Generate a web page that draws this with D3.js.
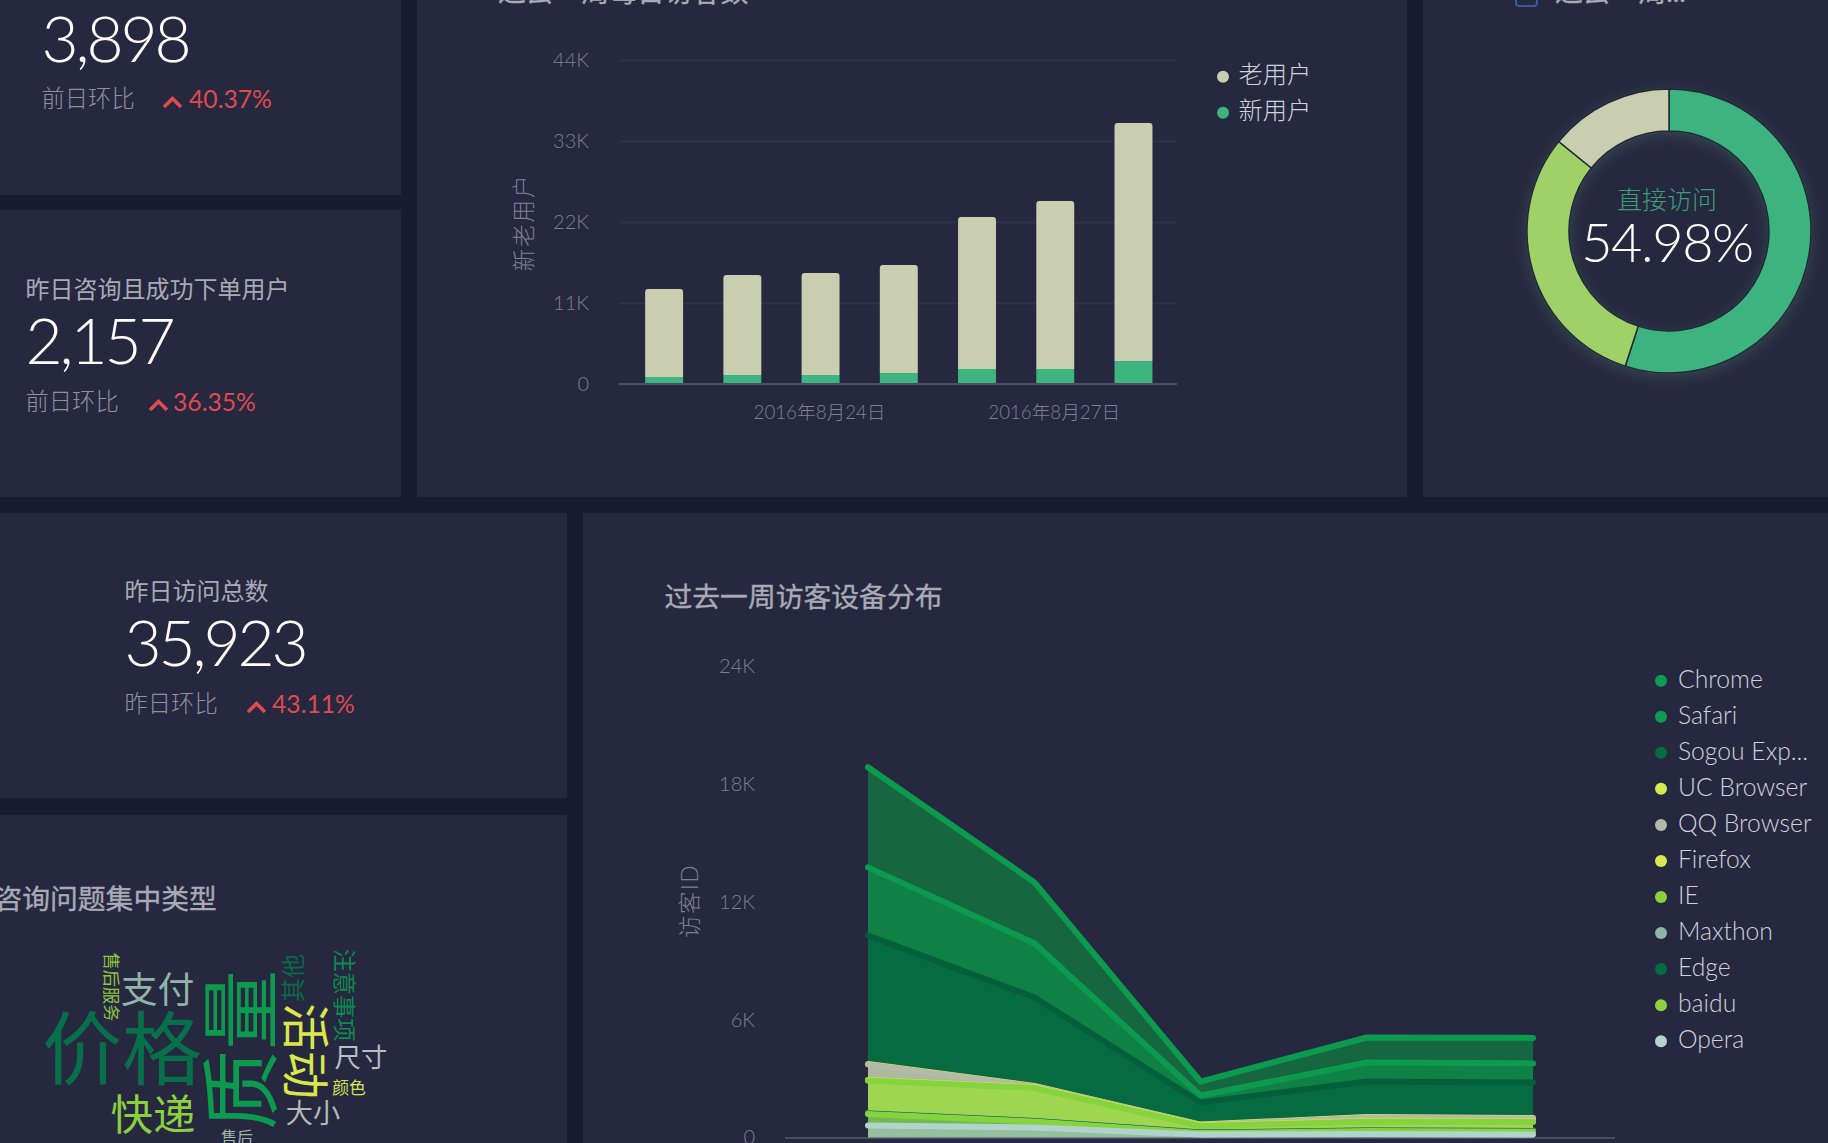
<!DOCTYPE html>
<html lang="zh-CN">
<head>
<meta charset="utf-8">
<title>Dashboard</title>
<script src="https://cdn.jsdelivr.net/npm/d3@7"></script>
<style>
html,body{margin:0;padding:0;background:#191b2e;overflow:hidden}
svg{display:block}
text{font-family:Lato,"Noto Sans CJK SC",sans-serif}
</style>
</head>
<body>
<svg id="c" width="1828" height="1143"></svg>
<script>
// ---------- data ----------
const barDates = ["2016年8月22日","2016年8月23日","2016年8月24日","2016年8月25日","2016年8月26日","2016年8月27日","2016年8月28日"];
const barTickLabels = ["2016年8月24日","2016年8月27日"];
const newUsers = [950,1220,1220,1490,2040,2040,3120];
const oldUsers = [11950,13580,13850,14670,20640,22810,32320];
const barTicks = [0,11000,22000,33000,44000];

const donutLabels = ["直接访问","其他来源","外部链接"];
const donutValues = [54.98,30.87,14.15];

const areaDates = ["8月24日","8月25日","8月26日","8月27日","8月28日"];
const areaTicks = [0,6000,12000,18000,24000];
const browsers = ["Chrome","Safari","Sogou Exp...","UC Browser","QQ Browser","Firefox","IE","Maxthon","Edge","baidu","Opera"];
const chrome  = [5096,3108,713,1274,1299];
const safari  = [3465,2752,357,968,968];
const sogou   = [6548,4510,1121,1809,1809];
const uc      = [26,25,24,25,26];
const qq      = [790,51,25,178,153];
const firefox = [24,25,26,25,24];
const ie      = [1650,1660,305,430,435];
const maxthon = [24,26,25,25,26];
const edge    = [26,24,24,26,25];
const baidu   = [586,306,76,153,153];
const opera   = [611,510,153,178,153];

const cloudWords = ["价格","质量","活动","快递","支付","大小","尺寸","注意事项","其他","售后服务","颜色","售后"];
const cloudWeights = [100,100,60,53,46,34,33,29,30,21.5,21,20];

// ---------- layout and style ----------
const PANEL="#25283f", GAP="#191b2e", AXIS="#7d8093", TITLE="#a8aab6", SUB="#8f919f", RED="#df4a50";
const panels=[[0,0,401,195],[0,210,401,287],[417,0,990,497],[1423,0,405,497],[0,513,567,285],[0,815,567,328],[583,513,1245,630]];
const browserLine=["#0c9a4e","#0c9a4e","#035f3b","#d6e84f","#b4baa5","#d6e84f","#85d33d","#8eb5a8","#055a38","#85d33d","#b0d4cc"];
const browserFill=["#16663f","#0f8144","#066b41","#d6e84f","#aeb8a0","#d6e84f","#9fd64f","#8eb5a8","#055a38","#73b850","#95c09f"];
const browserDot =["#0f9c50","#0f9c50","#056b41","#d6e84f","#b4baa5","#d6e84f","#8dd13f","#8eb5a8","#056b41","#8dd13f","#b4d3cc"];
const donutColors=["#3eb47f","#a0d068","#c8ceaf"];
const cloudPlacement=[
 [122,1050,0,"#07704a"],[242,1050,-90,"#0c9a4e"],[305,1051,90,"#dbe64c"],[153,1115,0,"#8ccf3f"],
 [157.5,990,0,"#8fb4a8"],[313,1113,0,"#b5b9b2"],[361,1058,0,"#b9bdc4"],[344,995,90,"#0f8a50"],
 [294,978,-90,"#0a6a48"],[111,987,90,"#8fc23f"],[349,1088,0,"#d6e25a"],[237,1137,0,"#a0b8a8"]];

const svg=d3.select("#c");
const defs=svg.append("defs");
const glow=defs.append("filter").attr("id","glow").attr("x","-20%").attr("y","-20%").attr("width","140%").attr("height","140%");
glow.append("feDropShadow").attr("dx",0).attr("dy",4).attr("stdDeviation",7).attr("flood-color","#6fae8a").attr("flood-opacity",.22);

svg.selectAll("rect.p").data(panels).join("rect").attr("class","p")
  .attr("x",d=>d[0]).attr("y",d=>d[1]).attr("width",d=>d[2]).attr("height",d=>d[3]).attr("fill",PANEL);

function txt(x,y,s,size,fill,opt={}){
  const t=svg.append("text").attr("x",x).attr("y",y).attr("dy",opt.dy!==undefined?opt.dy:"0.35em").text(s)
    .attr("font-size",size).attr("fill",fill).attr("font-weight",opt.w||300)
    .attr("text-anchor",opt.a||"start").attr("letter-spacing",opt.ls||null);
  if(opt.heavy) t.attr("stroke",fill).attr("stroke-width",opt.heavy);
  return t;
}
function chevron(x,y){
  svg.append("path").attr("d",`M${x},${y+7}L${x+8.5},${y-1.5}L${x+17},${y+7}`)
    .attr("fill","none").attr("stroke",RED).attr("stroke-width",3.6);
}
function kpi(x,label,labelY,num,numBase,cmp,cmpY,chevX,pct,pctX){
  if(label) txt(x-1,labelY,label,24,TITLE,{w:400});
  txt(x-1,numBase,num,64,"#ffffff",{dy:0,ls:-3.1});
  txt(x-1,cmpY,cmp,23.3,SUB);
  chevron(chevX,cmpY+1);
  txt(pctX,cmpY,pct,24.7,RED,{w:400});
}
kpi(42.5,null,0,"3,898",62,"前日环比",99,164,"40.37%",189);
kpi(26.5,"昨日咨询且成功下单用户",290,"2,157",364,"前日环比",402,150,"36.35%",173);
kpi(125.5,"昨日访问总数",592,"35,923",666,"昨日环比",704,248,"43.11%",272);

// titles
txt(498,-8,"过去一周每日访客数",27.8,TITLE,{w:400,heavy:.35});
txt(1555,-8,"过去一周...",27.8,TITLE,{w:400,heavy:.35});
svg.append("rect").attr("x",1516).attr("y",-18).attr("width",21).attr("height",24).attr("rx",3)
  .attr("fill","none").attr("stroke","#3a5a9c").attr("stroke-width",2);
txt(-5.6,899,"咨询问题集中类型",27.8,TITLE,{w:400,heavy:.35});
txt(664.5,597,"过去一周访客设备分布",27.8,TITLE,{w:400,heavy:.35});

// ---------- stacked bars ----------
const barX=d3.scaleBand().domain(barDates).range([625,1172.6]).paddingInner(.515).paddingOuter(.2575);
const barY=d3.scaleLinear().domain([0,44000]).range([384,60]);
const gy=svg.append("g").attr("transform","translate(619,0)")
  .call(d3.axisLeft(barY).tickValues(barTicks).tickSize(-558).tickPadding(30).tickFormat(d=>d?d/1000+"K":"0"));
gy.select(".domain").remove();
gy.selectAll("line").attr("stroke","#2f3249").attr("stroke-width",2);
gy.selectAll("text").attr("fill",AXIS).attr("font-size",20).attr("font-weight",300).style("font-family",'Lato,"Noto Sans CJK SC"');

const gNew=svg.append("g"), gOld=svg.append("g");
gNew.selectAll("rect").data(barDates).join("rect")
  .attr("x",d=>barX(d)).attr("width",barX.bandwidth())
  .attr("y",(d,i)=>barY(newUsers[i])).attr("height",(d,i)=>barY(0)-barY(newUsers[i]))
  .attr("fill",donutColors[0]);
gOld.selectAll("path").data(barDates).join("path")
  .attr("d",(d,i)=>{
    const x=barX(d),w=barX.bandwidth(),t=barY(newUsers[i]+oldUsers[i]),b=barY(newUsers[i]),r=3;
    return `M${x},${b}V${t+r}Q${x},${t} ${x+r},${t}H${x+w-r}Q${x+w},${t} ${x+w},${t+r}V${b}Z`;
  }).attr("fill","#c8ceaf");

const gx=svg.append("g").attr("transform","translate(-1,384)")
  .call(d3.axisBottom(barX).tickValues(barTickLabels).tickSize(0).tickPadding(21.5));
gx.select(".domain").remove();
gx.selectAll("text").attr("fill",AXIS).attr("font-size",18.7).attr("font-weight",300).style("font-family",'Lato,"Noto Sans CJK SC"');
svg.append("line").attr("x1",619).attr("x2",1177).attr("y1",barY(0)).attr("y2",barY(0)).attr("stroke","#4a4d63").attr("stroke-width",2);

svg.append("text").attr("transform","translate(524,222.5) rotate(-90)").attr("text-anchor","middle").attr("dy","0.35em")
  .attr("font-size",22.5).attr("font-weight",300).attr("letter-spacing",2).attr("fill",AXIS).text("新老用户");
[["老用户","#c8ceaf"],["新用户","#3eb47f"]].forEach((d,i)=>{
  svg.append("circle").attr("cx",1223).attr("cy",76.7+i*36).attr("r",6).attr("fill",d[1]);
  txt(1238.5,74.5+i*36,d[0],24.3,"#d0d2da");
});

// ---------- donut ----------
const pie=d3.pie().sort(null).value(d=>d);
const arc=d3.arc().innerRadius(100).outerRadius(142);
const gd=svg.append("g").attr("transform","translate(1669,231)").attr("filter","url(#glow)");
gd.selectAll("path").data(pie(donutValues)).join("path").attr("d",arc)
  .attr("fill",(d,i)=>donutColors[i]).attr("stroke","#1f2a35").attr("stroke-width",1.5);
txt(1667,200,donutLabels[0],25,"#3a9f78",{a:"middle"});
txt(1667,262,d3.format(".2f")(donutValues[0])+"%",54,"#ffffff",{a:"middle",dy:0,ls:-1.4});

// ---------- stacked area ----------
const areaX=d3.scalePoint().domain(areaDates).range([868,1533]);
const areaY=d3.scaleLinear().domain([0,24000]).range([1137.5,666]);
const series=[chrome,safari,sogou,uc,qq,firefox,ie,maxthon,edge,baidu,opera];
const rows=areaDates.map((d,i)=>{const o={date:d};browsers.forEach((b,j)=>o[b]=series[j][i]);return o;});
const stack=d3.stack().keys(browsers.slice().reverse())(rows);
const layers=stack.slice().reverse();
const area=d3.area().x(d=>areaX(d.data.date)).y0(d=>areaY(d[0])).y1(d=>areaY(d[1]));
const topLine=d3.line().x(d=>areaX(d.data.date)).y(d=>areaY(d[1]));
const gyA=svg.append("g").attr("transform","translate(785,0)")
  .call(d3.axisLeft(areaY).tickValues(areaTicks).tickSize(0).tickPadding(30).tickFormat(d=>d?d/1000+"K":"0"));
gyA.select(".domain").remove();
gyA.selectAll("text").attr("fill",AXIS).attr("font-size",20).attr("font-weight",300).style("font-family",'Lato,"Noto Sans CJK SC"');
svg.append("line").attr("x1",785).attr("x2",1615).attr("y1",areaY(0)+.5).attr("y2",areaY(0)+.5).attr("stroke","#4a4d63").attr("stroke-width",2);
const gA=svg.append("g");
layers.forEach((l,i)=>{
  gA.append("path").attr("d",area(l)).attr("fill",browserFill[i]);
  gA.append("path").attr("d",topLine(l)).attr("fill","none").attr("stroke",browserLine[i])
    .attr("stroke-width",6).attr("stroke-linecap","round").attr("stroke-linejoin","round");
});
svg.append("text").attr("transform","translate(690,901) rotate(-90)").attr("text-anchor","middle").attr("dy","0.35em")
  .attr("font-size",22.5).attr("font-weight",300).attr("letter-spacing",1.5).attr("fill",AXIS).text("访客ID");
browsers.forEach((b,i)=>{
  svg.append("circle").attr("cx",1661).attr("cy",680.7+i*36.05).attr("r",6).attr("fill",browserDot[i]);
  txt(1678,679.5+i*36,b,24.7,"#d0d2da");
});

// ---------- word cloud ----------
const cloudSize=d3.scaleLinear().domain([0,100]).range([0,80]);
svg.append("g").selectAll("text").data(cloudWords).join("text")
  .attr("transform",(d,i)=>`translate(${cloudPlacement[i][0]},${cloudPlacement[i][1]}) rotate(${cloudPlacement[i][2]})`)
  .attr("text-anchor","middle").attr("dy","0.35em")
  .attr("font-size",(d,i)=>cloudSize(cloudWeights[i])).attr("fill",(d,i)=>cloudPlacement[i][3])
  .attr("font-weight",400).style("font-family",'"Noto Sans CJK SC"').text(d=>d);
</script>
</body>
</html>
